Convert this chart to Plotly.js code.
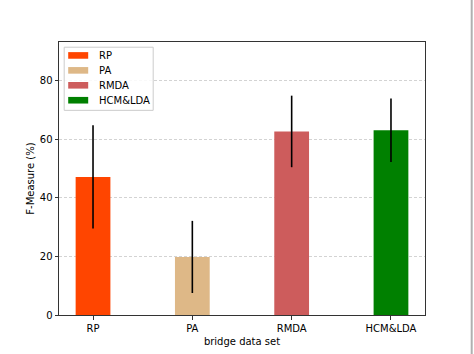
<!DOCTYPE html>
<html>
<head>
<meta charset="utf-8">
<script src="https://cdn.plot.ly/plotly-3.0.1.min.js"></script>
<style>html,body{margin:0;padding:0;background:#fff;}#chart{width:474px;height:354px;}</style>
</head>
<body>
<div id="chart"></div>
<script>
const categories = ["RP", "PA", "RMDA", "HCM&LDA"];
const values = [47.1, 19.8, 62.6, 63.0];
const errors = [17.6, 12.3, 12.2, 10.8];
const colors = ["#FF4500", "#DEB887", "#CD5C5C", "#008000"];
const yTicks = [0, 20, 40, 60, 80];
const xTitle = "bridge data set";
const yTitle = "F-Measure (%)";

const traces = categories.map((c, i) => ({
  type: "bar",
  x: [c],
  y: [values[i]],
  name: c,
  width: 0.35,
  marker: {color: colors[i], line: {width: 0}},
  error_y: {type: "data", array: [errors[i]], visible: true, color: "#000", thickness: 1.6, width: 0},
  showlegend: false,
  hoverinfo: "none"
}));

// custom matplotlib-style legend
const shapes = [];
const annotations = [];
const W = 474, H = 354, L = 59.3, R = 425.3, T = 42.3, B = 314.7;
const px = x => (x - L) / (R - L);
const py = y => (B - y) / (B - T);
shapes.push({type: "rect", xref: "paper", yref: "paper", x0: px(64.5), x1: px(153.5), y0: py(110.5), y1: py(47.5),
  line: {color: "#cccccc", width: 1}, fillcolor: "rgba(255,255,255,0.85)", layer: "above"});
categories.forEach((c, i) => {
  const yc = 55.7 + i * 14.9;
  shapes.push({type: "rect", xref: "paper", yref: "paper", x0: px(68.5), x1: px(88.5), y0: py(yc + 3.3), y1: py(yc - 3.3),
    line: {width: 0}, fillcolor: colors[i], layer: "above"});
  annotations.push({xref: "paper", yref: "paper", x: px(97), y: py(yc), xanchor: "left", yanchor: "middle",
    text: c, showarrow: false, font: {family: "DejaVu Sans", size: 10, color: "#000"}});
});
// y axis title placed as in the reference
annotations.push({xref: "paper", yref: "paper", x: px(30.5), y: 0.5, xanchor: "center", yanchor: "middle",
  textangle: -90, text: yTitle, showarrow: false, font: {family: "DejaVu Sans", size: 10, color: "#000"}});
// right edge grey line of the original image
shapes.push({type: "line", xref: "paper", yref: "paper", x0: px(472), x1: px(472), y0: py(0), y1: py(354),
  line: {color: "#b0b0b0", width: 2}});

const layout = {
  width: W, height: H,
  margin: {l: L, r: W - R, t: T, b: H - B, pad: 0},
  paper_bgcolor: "#fff", plot_bgcolor: "#fff",
  barmode: "overlay",
  font: {family: "DejaVu Sans", size: 10, color: "#000"},
  xaxis: {
    type: "category", categoryorder: "array", categoryarray: categories,
    range: [-0.3425, 3.3425], showgrid: false, zeroline: false,
    showline: true, mirror: true, linecolor: "#333", linewidth: 1,
    ticks: "outside", ticklen: 3.5, tickcolor: "#333", tickwidth: 1,
    tickfont: {family: "DejaVu Sans", size: 10, color: "#000"},
    title: {text: xTitle, font: {family: "DejaVu Sans", size: 10, color: "#000"}, standoff: 5}
  },
  yaxis: {
    range: [0, 93.1], tickvals: yTicks, ticktext: yTicks.map(String),
    showgrid: true, gridcolor: "#c8c8c8", griddash: "3px,2px", gridwidth: 0.8,
    zeroline: false, showline: true, mirror: true, linecolor: "#333", linewidth: 1,
    ticks: "outside", ticklen: 3.5, tickcolor: "#333", tickwidth: 1,
    tickfont: {family: "DejaVu Sans", size: 10, color: "#000"}
  },
  shapes: shapes,
  annotations: annotations
};

Plotly.newPlot("chart", traces, layout, {staticPlot: true, displayModeBar: false});
</script>
</body>
</html>
